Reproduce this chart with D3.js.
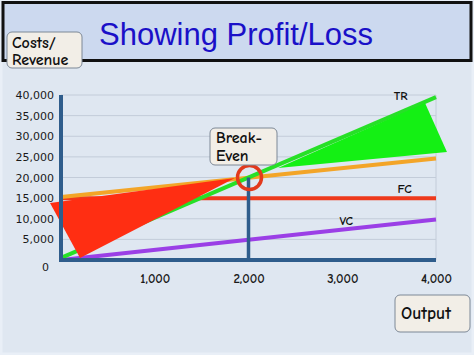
<!DOCTYPE html>
<html><head><meta charset="utf-8">
<script src="https://cdn.jsdelivr.net/npm/d3@7"></script>
<style>
html,body{margin:0;padding:0;background:#dfe7f1;}
svg{display:block;}
</style></head>
<body>
<script>
// ---- data ----
const outputs = [0, 4000];
const totalRevenue = [500, 39500];
const totalCost = [15300, 24600];
const fixedCost = [15000, 15000];
const variableCost = [0, 9800];
const lossArea = [[-117, 13820], [203, 485], [1856, 19880]];
const profitArea = [[2315, 22300], [3883, 38060], [4117, 26180]];
const breakEven = [2000, 20000];
const yTicks = [0, 5000, 10000, 15000, 20000, 25000, 30000, 35000, 40000];
const xTicks = [1000, 2000, 3000, 4000];
const lineLabels = [["TR", 3550, 38800], ["FC", 3590, 16300], ["VC", 2970, 8500]];

const W = 474, H = 355;
const comic = "'Comic Sans MS','Comic Neue','DejaVu Sans',sans-serif";
const svg = d3.select("body").append("svg").attr("width", W).attr("height", H);

// background & frame
svg.append("rect").attr("x", 0).attr("y", 0).attr("width", W).attr("height", H).attr("fill", "#dfe7f1");
svg.append("rect").attr("x", 1).attr("y", 1).attr("width", W - 2).attr("height", H - 2)
  .attr("fill", "none").attr("stroke", "#e9eff7").attr("stroke-width", 3);

// title box
svg.append("rect").attr("x", 3).attr("y", 2.5).attr("width", 468).attr("height", 58)
  .attr("fill", "#ccd9ef").attr("stroke", "#111").attr("stroke-width", 3);
svg.append("text").attr("x", 236).attr("y", 45).attr("text-anchor", "middle")
  .attr("font-family", "'Liberation Sans',Arial,sans-serif").attr("font-size", 31)
  .attr("fill", "#1a10c8").text("Showing Profit/Loss");

// scales
const x = d3.scaleLinear().domain([0, 4000]).range([61, 436]);
const y = d3.scaleLinear().domain([0, 40000]).range([260, 95]);

// plot area gridlines
const g = svg.append("g");
g.selectAll("line.grid").data(yTicks.filter(d => d > 0)).join("line")
  .attr("x1", x(0)).attr("x2", x(4000)).attr("y1", d => y(d)).attr("y2", d => y(d))
  .attr("stroke", "#c3ccd9").attr("stroke-width", 1);
g.append("line").attr("x1", x(4000)).attr("x2", x(4000)).attr("y1", y(40000)).attr("y2", y(0))
  .attr("stroke", "#c3ccd9").attr("stroke-width", 1);

// y tick labels
const yAxis = d3.axisLeft(y).tickValues(yTicks).tickSize(0).tickPadding(7)
  .tickFormat(d3.format(","));
const ya = svg.append("g").attr("transform", `translate(${x(0)},0)`).call(yAxis);
ya.select(".domain").remove();
ya.selectAll("text").attr("font-family", "'DejaVu Sans',Verdana,sans-serif")
  .attr("font-size", 11).attr("fill", "#1a1a1a")
  .attr("dy", d => d === 0 ? "0.95em" : "0.32em")
  .attr("dx", d => d === 0 ? "-5" : "0");

// x tick labels
const xAxis = d3.axisBottom(x).tickValues(xTicks).tickSize(0).tickPadding(14)
  .tickFormat(d3.format(","));
const xa = svg.append("g").attr("transform", `translate(0,${y(0)})`).call(xAxis);
xa.select(".domain").remove();
xa.selectAll("text").attr("font-family", comic).attr("font-weight", 700)
  .attr("font-size", 13).attr("fill", "#1a1a1a");

// lines
const line = d3.line().x(d => x(d[0])).y(d => y(d[1]));
const series = [
  [variableCost, "#9b3fe6"],
  [fixedCost, "#ee3a1c"],
  [totalCost, "#f3a528"],
  [totalRevenue, "#27e027"]
];
series.forEach(([vals, col]) => {
  svg.append("path").datum(outputs.map((o, i) => [o, vals[i]]))
    .attr("d", line).attr("fill", "none").attr("stroke", col).attr("stroke-width", 4);
});

// loss & profit areas
const closed = d3.line().x(d => x(d[0])).y(d => y(d[1])).curve(d3.curveLinearClosed);
svg.append("path").datum(lossArea).attr("d", closed).attr("fill", "#ff2e12");
svg.append("path").datum(profitArea).attr("d", closed).attr("fill", "#14f014");

// axes
svg.append("line").attr("x1", x(0)).attr("x2", x(0)).attr("y1", y(40000)).attr("y2", y(0) + 2)
  .attr("stroke", "#2f5d8c").attr("stroke-width", 4);
svg.append("line").attr("x1", x(0) - 2).attr("x2", x(4000)).attr("y1", y(0)).attr("y2", y(0))
  .attr("stroke", "#2f5d8c").attr("stroke-width", 4);

// break-even drop line and circle
svg.append("line").attr("x1", x(breakEven[0])).attr("x2", x(breakEven[0]))
  .attr("y1", y(breakEven[1])).attr("y2", y(0))
  .attr("stroke", "#2f5d8c").attr("stroke-width", 3.5);
svg.append("circle").attr("cx", x(breakEven[0]) + 1).attr("cy", y(breakEven[1]))
  .attr("r", 12).attr("fill", "none").attr("stroke", "#e2391c").attr("stroke-width", 3.5);

// line labels
svg.selectAll("text.ll").data(lineLabels).join("text")
  .attr("x", d => x(d[1])).attr("y", d => y(d[2])).attr("font-family", comic)
  .attr("font-weight", 700).attr("font-size", 12.5).attr("fill", "#111").text(d => d[0]);

// callout boxes
function box(bx, by, bw, bh, lines, fs, lx, ly, lh) {
  svg.append("rect").attr("x", bx).attr("y", by).attr("width", bw).attr("height", bh)
    .attr("rx", 5).attr("fill", "#f2eee7").attr("stroke", "#7d8896").attr("stroke-width", 1);
  lines.forEach((t, i) => {
    svg.append("text").attr("x", lx).attr("y", ly + i * lh).attr("font-family", comic)
      .attr("font-weight", 700).attr("font-size", fs).attr("fill", "#111").text(t);
  });
}
box(7, 32, 75, 36, ["Costs/", "Revenue"], 16, 12, 48, 17);
box(210, 128, 67, 37, ["Break-", "Even"], 16, 216, 143, 18);
box(395, 295, 75, 37, ["Output"], 17.5, 401, 319, 0);
</script>
</body></html>
